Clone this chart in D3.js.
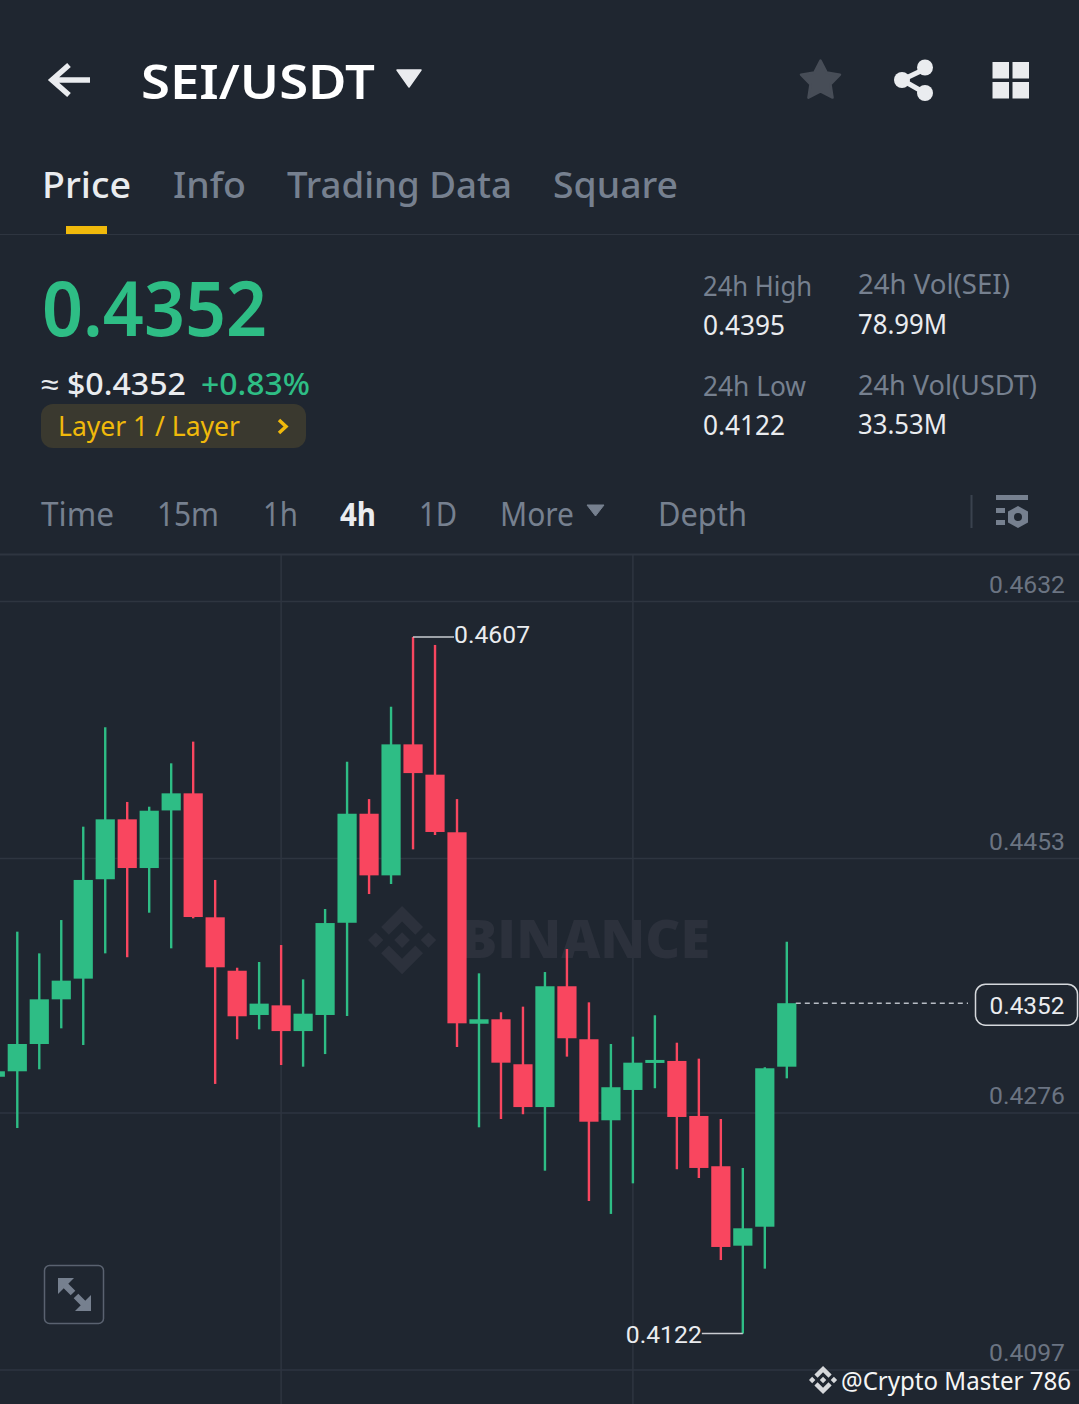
<!DOCTYPE html>
<html>
<head>
<meta charset="utf-8">
<title>SEI/USDT</title>
<script src="https://cdnjs.cloudflare.com/ajax/libs/d3/7.8.5/d3.min.js"></script>
<style>
  html, body { margin: 0; padding: 0; background: #1f2630; }
  svg { display: block; }
</style>
</head>
<body>
<script>
// 4h candles, oldest first. the first one is almost off the left edge
var opens  = [.43008,.43046,.43236,.43547,.43691,.44383,.44800,.44461,.44862,.44981,.44118,.43746,.43438,.43505,.43326,.43438,.44080,.44839,.44410,.45322,.45111,.44710,.43377,.43408,.43095,.42797,.43638,.43269,.42705,.42916,.43104,.43118,.42735,.42385,.41832,.41964,.43078];
var closes = [.43046,.43236,.43547,.43677,.44378,.44800,.44461,.44860,.44981,.44120,.43770,.43429,.43517,.43326,.43447,.44078,.44839,.44410,.45322,.45122,.44712,.43380,.43408,.43106,.42797,.43638,.43276,.42695,.42935,.43106,.43125,.42728,.42373,.41823,.41953,.43067,.4352];
var highs  = [.43120,.44018,.43867,.44099,.44749,.45441,.44921,.44888,.45190,.45341,.44378,.43767,.43807,.43925,.43686,.44176,.45201,.44941,.45584,.4607,.46014,.44941,.43728,.43457,.43496,.43737,.43897,.43526,.43236,.43287,.43436,.43245,.43134,.42714,.42373,.43074,.43948];
var lows   = [.42900,.42651,.43060,.43345,.43229,.43867,.43840,.44150,.43902,.44111,.42958,.43269,.43338,.43090,.43078,.43166,.43431,.44280,.44350,.44591,.44691,.43215,.42656,.42714,.42747,.42354,.43148,.42143,.42053,.42266,.42928,.42364,.42303,.41732,.4122,.41672,.42997];

var priceTicks = [0.4632, 0.4453, 0.4276, 0.4097];
var verticalGridAt = [13, 29];
var lastPrice = 0.4352;
var highMark = 0.4607;
var lowMark = 0.4122;

var tabs = ["Price", "Info", "Trading Data", "Square"];
var intervals = ["Time", "15m", "1h", "4h", "1D", "More", "Depth"];

var w = 1079, h = 1404;
var bg = "#1f2630", green = "#2ebd85", red = "#f9465f", grid = "#2e3540";
var gray = "#76808f", light = "#eaecef", yellow = "#f0b90b";
var uiFont = "'Noto Sans', sans-serif", chartFont = "Roboto, sans-serif";

var svg = d3.select("body").append("svg")
  .attr("width", w)
  .attr("height", h)
  .style("background-color", bg);

// same path is used for the watermark and the footer
var logoPath = "M7.34 10.08 12 5.42l4.66 4.66 2.71-2.71L12 0 4.63 7.37zM0 12l2.71-2.71L5.42 12l-2.71 2.71zm7.34 1.92L12 18.58l4.66-4.66 2.71 2.71L12 24l-7.37-7.37zM18.58 12l2.71-2.71L24 12l-2.71 2.71zm-3.83 0L12 9.25 9.25 12 12 14.75z";

function label(txt, x, y, size, color, weight, width, font) {
  var t = svg.append("text")
    .attr("x", x).attr("y", y)
    .attr("font-family", font || uiFont)
    .attr("font-size", size)
    .attr("font-weight", weight || 400)
    .attr("fill", color)
    .text(txt);
  if (width) t.attr("textLength", width).attr("lengthAdjust", "spacingAndGlyphs");
  return t;
}

//* header
svg.append("path")
  .attr("d", "M90 80H54M69 65 52 80l17 15")
  .attr("fill", "none").attr("stroke", light).attr("stroke-width", 5.5);
label("SEI/USDT", 141, 99, 47, "#ffffff", 600, 234);
svg.append("path").attr("d", "M397 70h24l-12 17z").attr("fill", light).attr("stroke", light).attr("stroke-width", 1.5).attr("stroke-linejoin", "round");

var star = d3.range(10).map(function (i) {
  var r = i % 2 ? 10.5 : 20.5, a = i * Math.PI / 5 - Math.PI / 2;
  return [820.5 + r * Math.cos(a), 81 + r * Math.sin(a)];
});
svg.append("path").attr("d", "M" + star.join("L") + "Z")
  .attr("fill", "#474d57").attr("stroke", "#474d57").attr("stroke-width", 2.5).attr("stroke-linejoin", "round");

svg.append("path").attr("d", "M925 69 902 80l23 13")
  .attr("fill", "none").attr("stroke", light).attr("stroke-width", 5);
[[925, 67.5, 8], [902, 80, 8], [925, 93, 8]].forEach(function (c) {
  svg.append("circle").attr("cx", c[0]).attr("cy", c[1]).attr("r", c[2]).attr("fill", light);
});
[[992.5, 62], [1012.5, 62], [992.5, 82], [1012.5, 82]].forEach(function (p) {
  svg.append("rect").attr("x", p[0]).attr("y", p[1]).attr("width", 16.5).attr("height", 16.5).attr("fill", light);
});

//* tabs
var tabPos = [[42, 89], [173, 73], [287, 225], [553, 125]];
tabs.forEach(function (t, i) {
  label(t, tabPos[i][0], 198, 36, i === 0 ? light : gray, 500, tabPos[i][1]);
});
svg.append("rect").attr("x", 66).attr("y", 226).attr("width", 41).attr("height", 8).attr("fill", yellow);
svg.append("line").attr("x1", 0).attr("x2", w).attr("y1", 234.5).attr("y2", 234.5).attr("stroke", grid);

//* price block
label("0.4352", 42, 336, 76, green, 600, 225);
label("≈ $0.4352", 41, 395, 31, light, 500, 145);
label("+0.83%", 201, 395, 31, green, 500, 109);
svg.append("rect").attr("x", 41).attr("y", 404).attr("width", 265).attr("height", 44).attr("rx", 12).attr("fill", "#3a392f");
label("Layer 1 / Layer", 58, 436, 28, yellow, 400, 182);
svg.append("path").attr("d", "M279 420l7 6.5-7 6.5").attr("fill", "none").attr("stroke", yellow).attr("stroke-width", 3.5);

label("24h High", 703, 296, 28, gray, 400, 109);
label("0.4395", 703, 335, 28, light, 400, 82);
label("24h Vol(SEI)", 858, 294, 28, gray, 400, 152);
label("78.99M", 858, 334, 28, light, 400, 89);
label("24h Low", 703, 396, 28, gray, 400, 103);
label("0.4122", 703, 435, 28, light, 400, 82);
label("24h Vol(USDT)", 858, 395, 28, gray, 400, 179);
label("33.53M", 858, 434, 28, light, 400, 89);

//* interval row
var intervalPos = [[41, 73], [157, 62], [263, 35], [340, 36], [419, 38], [500, 74], [658, 89]];
intervals.forEach(function (t, i) {
  var active = t === "4h";
  label(t, intervalPos[i][0], 525.5, 32, active ? light : gray, active ? 700 : 400, intervalPos[i][1]);
});
svg.append("path").attr("d", "M587 505h17l-8.5 11z").attr("fill", gray).attr("stroke", gray).attr("stroke-linejoin", "round");
svg.append("line").attr("x1", 971.5).attr("x2", 971.5).attr("y1", 495).attr("y2", 528).attr("stroke", "#3a424e").attr("stroke-width", 2);
svg.append("rect").attr("x", 996).attr("y", 495).attr("width", 32).attr("height", 5).attr("fill", gray);
svg.append("rect").attr("x", 996).attr("y", 508).attr("width", 9).attr("height", 5).attr("fill", gray);
svg.append("rect").attr("x", 996).attr("y", 520).attr("width", 9).attr("height", 5).attr("fill", gray);
svg.append("path").attr("d", "M1018 506l10 5.5v11l-10 5.5-10-5.5v-11z").attr("fill", gray);
svg.append("circle").attr("cx", 1018).attr("cy", 517).attr("r", 4).attr("fill", bg);
svg.append("line").attr("x1", 0).attr("x2", w).attr("y1", 554.5).attr("y2", 554.5).attr("stroke", grid).attr("stroke-width", 2);

//? scales
const xScale = d3.scaleLinear().domain([0, opens.length - 1]).range([-4.7, 786.8]);
const yScale = d3.scaleLinear().domain([0.4097, 0.4632]).range([1369.5, 601]);

//* grid and price axis
const yAxis = d3.axisRight(yScale)
  .tickValues(priceTicks)
  .tickSize(w)
  .tickFormat(d3.format(".4f"));
const axisG = svg.append("g").attr("id", "y-axis").call(yAxis);
axisG.select(".domain").remove();
axisG.selectAll("line").attr("stroke", grid).attr("stroke-width", 1.5);
axisG.selectAll("text")
  .attr("x", 1065).attr("dy", -9)
  .attr("text-anchor", "end")
  .attr("font-family", chartFont)
  .attr("font-size", 24.7)
  .attr("fill", "#6b7482");

svg.selectAll(".vgrid")
  .data(verticalGridAt)
  .enter().append("line")
  .attr("class", "vgrid")
  .attr("x1", function (d) { return xScale(d); })
  .attr("x2", function (d) { return xScale(d); })
  .attr("y1", 555).attr("y2", h)
  .attr("stroke", grid).attr("stroke-width", 1.5);

//* watermark
svg.append("path").attr("d", logoPath)
  .attr("transform", "translate(368,906) scale(2.84)")
  .attr("fill", "#2c313c");
label("BINANCE", 461, 958, 53, "#2c313c", 800, 249, "'Open Sans', sans-serif");

//* candles
const candleIdx = d3.range(opens.length);
svg.selectAll(".wick")
  .data(candleIdx)
  .enter().append("line")
  .attr("class", "wick")
  .attr("x1", function (i) { return xScale(i); })
  .attr("x2", function (i) { return xScale(i); })
  .attr("y1", function (i) { return yScale(highs[i]); })
  .attr("y2", function (i) { return yScale(lows[i]); })
  .attr("stroke-width", 2.4)
  .attr("stroke", function (i) { return closes[i] >= opens[i] ? green : red; });

svg.selectAll(".body")
  .data(candleIdx)
  .enter().append("rect")
  .attr("class", "body")
  .attr("x", function (i) { return xScale(i) - 9.6; })
  .attr("width", 19.2)
  .attr("y", function (i) { return yScale(Math.max(opens[i], closes[i])); })
  .attr("height", function (i) { return Math.abs(yScale(opens[i]) - yScale(closes[i])); })
  .attr("fill", function (i) { return closes[i] >= opens[i] ? green : red; });

//* high and low callouts
var highIdx = highs.indexOf(highMark), lowIdx = lows.indexOf(lowMark);
svg.append("line")
  .attr("x1", xScale(highIdx)).attr("x2", xScale(highIdx) + 41)
  .attr("y1", yScale(highMark)).attr("y2", yScale(highMark))
  .attr("stroke", "#c9ccd1").attr("stroke-width", 1.5);
label(d3.format(".4f")(highMark), xScale(highIdx) + 41, yScale(highMark) + 6.5, 24.7, light, 400, 76, chartFont);
svg.append("line")
  .attr("x1", xScale(lowIdx) - 41).attr("x2", xScale(lowIdx))
  .attr("y1", yScale(lowMark)).attr("y2", yScale(lowMark))
  .attr("stroke", "#c9ccd1").attr("stroke-width", 1.5);
label(d3.format(".4f")(lowMark), xScale(lowIdx) - 117, yScale(lowMark) + 9, 24.7, light, 400, 76, chartFont);

//* last price tag
var lastY = yScale(lastPrice);
svg.append("line")
  .attr("x1", xScale(opens.length - 1) + 9).attr("x2", 968)
  .attr("y1", lastY).attr("y2", lastY)
  .attr("stroke", "#b7bcc4").attr("stroke-width", 1.5).attr("stroke-dasharray", "5 4");
svg.append("rect")
  .attr("x", 975.5).attr("y", lastY - 19).attr("width", 102).attr("height", 41).attr("rx", 10)
  .attr("fill", bg).attr("stroke", "#d5d8dc").attr("stroke-width", 1.5);
label(d3.format(".4f")(lastPrice), 989.5, lastY + 10.5, 24.7, light, 400, 75, chartFont);

//* expand button, two arrows pointing out
svg.append("rect").attr("x", 44.5).attr("y", 1265.5).attr("width", 59).attr("height", 58).attr("rx", 5)
  .attr("fill", "none").attr("stroke", "#5a6270").attr("stroke-width", 1.5);
svg.append("path").attr("d", "M58 1278h16l-16 16z M91 1311h-16l16-16z").attr("fill", gray);
svg.append("path").attr("d", "M64 1284l9 9M85 1305l-9-9")
  .attr("stroke", gray).attr("stroke-width", 6.5).attr("fill", "none");

//* footer
svg.append("path").attr("d", logoPath)
  .attr("transform", "translate(809,1366) scale(1.17)")
  .attr("fill", "#d6d8db");
label("@Crypto Master 786", 841, 1390, 24.5, "#f5f5f5", 400, 230);
</script>
</body>
</html>
